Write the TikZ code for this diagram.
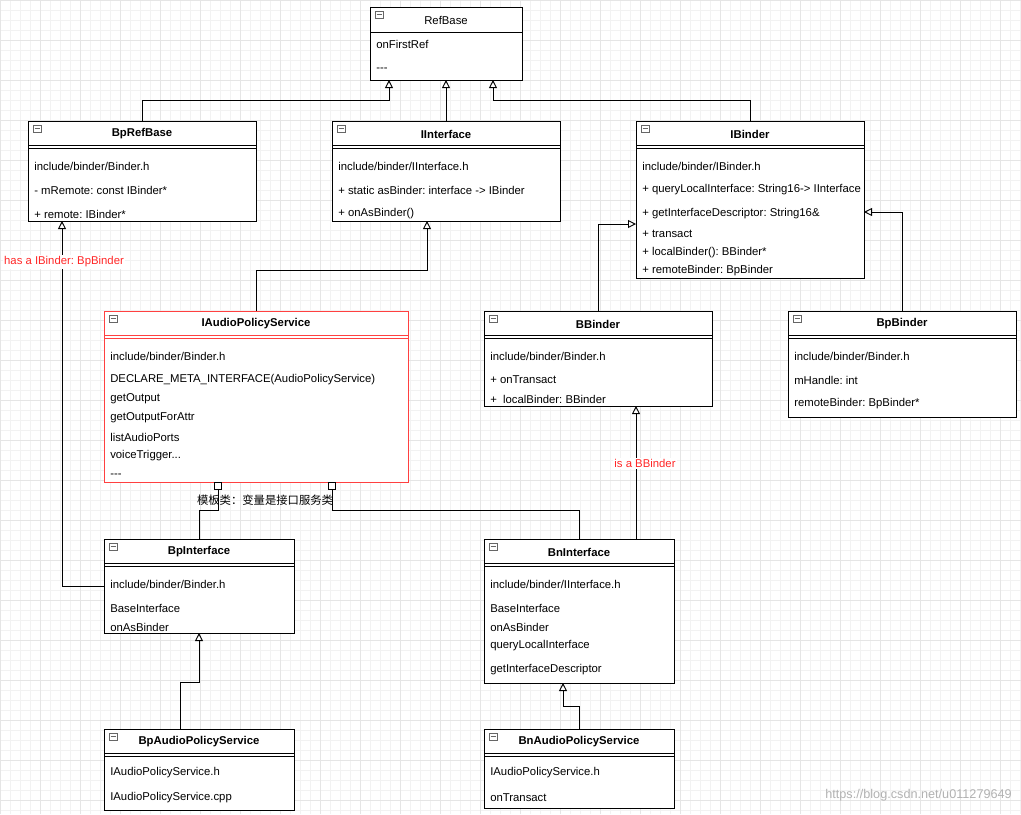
\documentclass[tikz,border=0pt]{standalone}
\usepackage{fontspec}
\setmainfont{Liberation Sans}
\newfontfamily\cjk{Noto Sans CJK SC}
\usetikzlibrary{calc,arrows.meta}
\frenchspacing
\tikzset{
  box/.style={draw=#1,line width=0.75pt,fill=white,inner sep=0,outer sep=0},
  ttl/.style={font=\fontsize{8.5}{9}\selectfont\bfseries,inner sep=0},
  item/.style={font=\fontsize{8.5}{9}\selectfont,anchor=west,inner sep=0},
  inh/.style={draw,line width=0.7pt,-{Triangle[open,length=6pt,width=6pt]}},
  lnk/.style={draw,line width=0.7pt},
  red/.style={text=red!85!white,font=\fontsize{8.5}{9}\selectfont,inner sep=1pt,fill=white},
}
\newcommand\cls[7]{%
  \node[box=#7,anchor=north west,minimum width={(#4-#2)*0.75pt},minimum height={(#5-#3)*0.75pt}] (#1) at (#2,#3) {};
  \draw[line width=0.7pt,draw=#7] (#2,#3+24) -- (#4,#3+24) (#2,#3+27) -- (#4,#3+27);
  \draw[line width=0.5pt,gray!80!black] (#2+5,#3+4) rectangle (#2+13,#3+11) (#2+6.5,#3+7.5) -- (#2+11.5,#3+7.5);
  \node[ttl] at ({(#2+#4)/2},#3+13) {#6};}
\begin{document}
\begin{tikzpicture}[x=0.75pt,y=-0.75pt]
\useasboundingbox (0,0) rectangle (1021,814);
\fill[white] (0,0) rectangle (1021,814);
\draw[black!5,line width=0.4pt,step=10*0.75pt] (0,0) grid (1021,814);
\draw[black!10,line width=0.4pt,step=40*0.75pt] (0,0) grid (1021,814);
% RefBase
\node[box=black,anchor=north west,minimum width={152*0.75pt},minimum height={73*0.75pt}] (refbase) at (370,7) {};
\draw[line width=0.7pt] (370,32) -- (522,32);
\draw[line width=0.5pt,gray!80!black] (375,11) rectangle (383,18) (376.5,14.5) -- (381.5,14.5);
\node[item,anchor=center] at (446,20) {RefBase};
\node[item] at (376,44) {onFirstRef};
\node[item] at (376,70) {{-}{-}{-}};
% classes
\cls{bprefbase}{28}{121}{256}{221}{BpRefBase}{black}
\node[item] at (34,166) {include/binder/Binder.h};
\node[item] at (34,190) {- mRemote: const IBinder*};
\node[item] at (34,214) {+ remote: IBinder*};
\cls{iinterface}{332}{121}{560}{221}{IInterface}{black}
\node[item] at (338,166) {include/binder/IInterface.h};
\node[item] at (338,190) {+ static asBinder: interface -> IBinder};
\node[item] at (338,214) {+ onAsBinder()};
\cls{ibinder}{636}{121}{864}{278}{IBinder}{black}
\node[item] at (642,166) {include/binder/IBinder.h};
\node[item] at (642,190) {+ queryLocalInterface: String16-> IInterface};
\node[item] at (642,214) {+ getInterfaceDescriptor: String16\&};
\node[item] at (642,234) {+ transact};
\node[item] at (642,253) {+ localBinder(): BBinder*};
\node[item] at (642,271) {+ remoteBinder: BpBinder};
\cls{iaps}{104}{311}{408}{482}{IAudioPolicyService}{red!75!white}
\node[item] at (110,356) {include/binder/Binder.h};
\node[item] at (110,380) {DECLARE\_META\_INTERFACE(AudioPolicyService)};
\node[item] at (110,399) {getOutput};
\node[item] at (110,418) {getOutputForAttr};
\node[item] at (110,437) {listAudioPorts};
\node[item] at (110,456) {voiceTrigger...};
\node[item] at (110,476) {{-}{-}{-}};
\cls{bbinder}{484}{311}{712}{406}{BBinder}{black}
\node[item] at (490,356) {include/binder/Binder.h};
\node[item] at (490,380) {+ onTransact};
\node[item] at (490,399) {+\ \ localBinder: BBinder};
\cls{bpbinder}{788}{311}{1016}{417}{BpBinder}{black}
\node[item] at (794,356) {include/binder/Binder.h};
\node[item] at (794,380) {mHandle: int};
\node[item] at (794,404) {remoteBinder: BpBinder*};
\cls{bpinterface}{104}{539}{294}{633}{BpInterface}{black}
\node[item] at (110,584) {include/binder/Binder.h};
\node[item] at (110,608) {BaseInterface};
\node[item] at (110,627) {onAsBinder};
\cls{bninterface}{484}{539}{674}{683}{BnInterface}{black}
\node[item] at (490,584) {include/binder/IInterface.h};
\node[item] at (490,608) {BaseInterface};
\node[item] at (490,627) {onAsBinder};
\node[item] at (490,646) {queryLocalInterface};
\node[item] at (490,670) {getInterfaceDescriptor};
\cls{bpaps}{104}{729}{294}{810}{BpAudioPolicyService}{black}
\node[item] at (110,773) {IAudioPolicyService.h};
\node[item] at (110,798) {IAudioPolicyService.cpp};
\cls{bnaps}{484}{729}{674}{808}{BnAudioPolicyService}{black}
\node[item] at (490,773) {IAudioPolicyService.h};
\node[item] at (490,798) {onTransact};
% inheritance
\draw[inh] (bprefbase.north) |- (142,100) -| ($(refbase.south)+(-57,0)$);
\draw[inh] (iinterface.north) -- (refbase.south);
\draw[inh] (ibinder.north) |- (750,100) -| ($(refbase.south)+(47,0)$);
\draw[inh] (iaps.north) |- (256,270) -| ($(iinterface.south)+(-19,0)$);
\draw[inh] (bbinder.north) |- ($(ibinder.west)+(0,24.5)$);
\draw[inh] (bpbinder.north) |- ($(ibinder.east)+(0,12.5)$);
\draw[inh] (bpinterface.west) -| ($(bprefbase.south)+(-80,0)$);
\node[red] at (64,262) {has a IBinder: BpBinder};
\draw[inh] (bninterface.north -| 636,0) -- ($(bbinder.south)+(38,0)$);
\node[red] at (645,463) {is a BBinder};
\draw[inh] ($(bpaps.north)+(-19,0)$) |- (199,682) -- (bpinterface.south);
\draw[inh] (bnaps.north) |- (563,706) -- ($(bninterface.south)+(-16,0)$);
% template links
\coordinate (sq1) at (218,487);
\coordinate (sq2) at (332,487);
\draw[lnk] (sq1) |- (199,510) -- (bpinterface.north);
\draw[lnk] (sq2) |- (579,510) -- (bninterface.north);
\draw[line width=0.6pt,fill=white] (214.5,482) rectangle (221.5,489) (328.5,482) rectangle (335.5,489);
\node[font=\cjk\fontsize{8.5}{9}\selectfont,inner sep=0] at (265,500) {模板类：变量是接口服务类};
\node[font=\fontsize{9.5}{10}\selectfont,text=black!30,anchor=east,inner sep=0] at (1012,795) {https://blog.csdn.net/u011279649};
\end{tikzpicture}
\end{document}
